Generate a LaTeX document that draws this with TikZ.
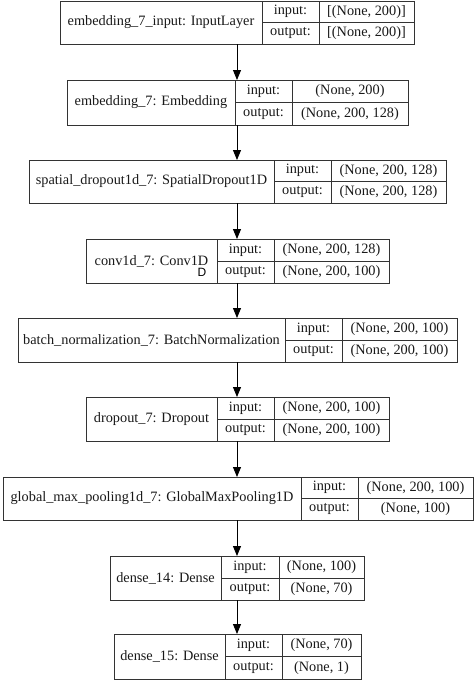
\documentclass[tikz,border=0pt]{standalone}
\usepackage{fontspec}
\setmainfont{Liberation Serif}
\newfontfamily\artifont{Liberation Sans}
\usetikzlibrary{arrows.meta}
\definecolor{edge}{HTML}{333333}
\tikzset{
  layerbox/.style={draw=edge, line width=0.9pt, inner sep=0pt, outer sep=0pt, fill=white},
  sepline/.style={draw=edge, line width=0.9pt},
  txt/.style={font=\fontsize{14.3}{16}\selectfont, inner sep=0pt, text=black!90},
  flow/.style={draw=black, line width=0.9pt, -{Triangle[length=10pt,width=8pt]}}
}
% #1 name, #2 x-left, #3 split1, #4 split2, #5 x-right, #6 top, #7 bottom, #8 label, #9 input
\newcommand{\kerasLayer}[9]{%
  \node[layerbox, anchor=north west, minimum width={(#5-#2)*1pt}, minimum height={(#7-#6)*1pt}] (#1) at (#2,#6) {};
  \draw[sepline] (#3,#6) -- (#3,#7);
  \draw[sepline] (#4,#6) -- (#4,#7);
  \draw[sepline] (#3,{(#6+#7)/2}) -- (#5,{(#6+#7)/2});
  \node[txt] (#1-lab) at ({(#2+#3)/2},{(#6+#7)/2}) {#8};
  \node[txt] (#1-in) at ({(#3+#4)/2},{#6+(#7-#6)/4}) {input:};
  \node[txt] (#1-out) at ({(#3+#4)/2},{#6+3*(#7-#6)/4}) {output:};
  \node[txt] (#1-iv) at ({(#4+#5)/2},{#6+(#7-#6)/4}) {#9};
}
\newcommand{\outval}[3]{\node[txt] (#1-ov) at ({(#2)},{(#3)}) {};}
\begin{document}
\begin{tikzpicture}[x=1pt,y=-1pt]
\useasboundingbox (0,0) rectangle (474,680);
\kerasLayer{L1}{60}{262}{319}{414}{1}{44}{embedding\_7\_input: InputLayer}{[(None, 200)]}
\node[txt] at ({(319+414)/2},{1+3*43/4}) {[(None, 200)]};
\kerasLayer{L2}{67}{235}{292}{408}{80}{125}{embedding\_7: Embedding}{(None, 200)}
\node[txt] at ({(292+408)/2},{80+3*45/4}) {(None, 200, 128)};
\kerasLayer{L3}{29}{274}{331}{446}{160}{203}{spatial\_dropout1d\_7: SpatialDropout1D}{(None, 200, 128)}
\node[txt] at ({(331+446)/2},{160+3*43/4}) {(None, 200, 128)};
\kerasLayer{L4}{86}{217}{274}{389}{239}{283}{conv1d\_7: Conv1D}{(None, 200, 128)}
\node[txt] at ({(274+389)/2},{239+3*44/4}) {(None, 200, 100)};
\node[font=\artifont\fontsize{12}{12}\selectfont, inner sep=0pt] (artD) at (202,272) {D};
\kerasLayer{L5}{18}{285}{342}{457}{318}{362}{batch\_normalization\_7: BatchNormalization}{(None, 200, 100)}
\node[txt] at ({(342+457)/2},{318+3*44/4}) {(None, 200, 100)};
\kerasLayer{L6}{86}{217}{274}{389}{397}{441}{dropout\_7: Dropout}{(None, 200, 100)}
\node[txt] at ({(274+389)/2},{397+3*44/4}) {(None, 200, 100)};
\kerasLayer{L7}{3}{301}{358}{473}{477}{520}{global\_max\_pooling1d\_7: GlobalMaxPooling1D}{(None, 200, 100)}
\node[txt] at ({(358+473)/2},{477+3*43/4}) {(None, 100)};
\kerasLayer{L8}{110}{221}{279}{364}{556}{600}{dense\_14: Dense}{(None, 100)}
\node[txt] at ({(279+364)/2},{556+3*44/4}) {(None, 70)};
\kerasLayer{L9}{114}{225}{282}{361}{634}{679}{dense\_15: Dense}{(None, 70)}
\node[txt] at ({(282+361)/2},{634+3*45/4}) {(None, 1)};
\foreach \a/\b in {L1/L2,L2/L3,L3/L4,L4/L5,L5/L6,L6/L7,L7/L8,L8/L9}
  \draw[flow] (237,0 |- \a.south) -- (237,0 |- \b.north);
\end{tikzpicture}
\end{document}
